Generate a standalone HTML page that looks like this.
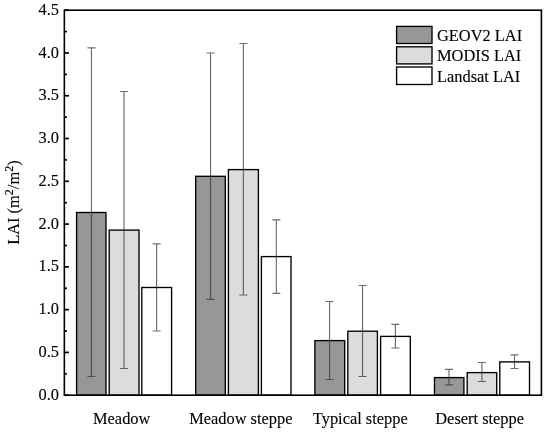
<!DOCTYPE html>
<html><head><meta charset="utf-8"><style>
html,body{margin:0;padding:0;background:#fff;width:550px;height:432px;overflow:hidden}
svg{display:block}
text{font-family:"Liberation Serif","Times New Roman",serif;font-size:16.4px;fill:#000;stroke:#000;stroke-width:0.12px}
</style></head><body>
<svg width="550" height="432" viewBox="0 0 550 432">
<rect x="0" y="0" width="550" height="432" fill="#fff"/>
<rect x="76.60" y="212.50" width="29.40" height="182.70" fill="#979797" stroke="#000" stroke-width="1.35"/>
<rect x="109.20" y="230.10" width="29.80" height="165.10" fill="#dcdcdc" stroke="#000" stroke-width="1.35"/>
<rect x="141.80" y="287.50" width="29.80" height="107.70" fill="#ffffff" stroke="#000" stroke-width="1.35"/>
<rect x="195.70" y="176.30" width="29.60" height="218.90" fill="#979797" stroke="#000" stroke-width="1.35"/>
<rect x="228.40" y="169.60" width="30.00" height="225.60" fill="#dcdcdc" stroke="#000" stroke-width="1.35"/>
<rect x="261.40" y="256.60" width="29.60" height="138.60" fill="#ffffff" stroke="#000" stroke-width="1.35"/>
<rect x="314.90" y="340.60" width="29.80" height="54.60" fill="#979797" stroke="#000" stroke-width="1.35"/>
<rect x="347.80" y="331.20" width="29.60" height="64.00" fill="#dcdcdc" stroke="#000" stroke-width="1.35"/>
<rect x="380.60" y="336.40" width="29.70" height="58.80" fill="#ffffff" stroke="#000" stroke-width="1.35"/>
<rect x="434.50" y="377.60" width="29.40" height="17.60" fill="#979797" stroke="#000" stroke-width="1.35"/>
<rect x="467.20" y="372.60" width="29.50" height="22.60" fill="#dcdcdc" stroke="#000" stroke-width="1.35"/>
<rect x="499.80" y="361.90" width="29.70" height="33.30" fill="#ffffff" stroke="#000" stroke-width="1.35"/>
<g stroke="#333333" stroke-opacity="0.72" stroke-width="1.15" fill="none">
<path d="M91.45 47.80V376.50M87.45 47.80H95.45M87.45 376.50H95.45"/>
<path d="M124.00 91.50V368.50M120.00 91.50H128.00M120.00 368.50H128.00"/>
<path d="M156.60 243.80V331.00M152.60 243.80H160.60M152.60 331.00H160.60"/>
<path d="M210.55 53.00V299.40M206.55 53.00H214.55M206.55 299.40H214.55"/>
<path d="M243.40 43.50V295.00M239.40 43.50H247.40M239.40 295.00H247.40"/>
<path d="M276.35 219.80V293.40M272.35 219.80H280.35M272.35 293.40H280.35"/>
<path d="M329.55 301.50V379.50M325.55 301.50H333.55M325.55 379.50H333.55"/>
<path d="M362.55 285.50V376.50M358.55 285.50H366.55M358.55 376.50H366.55"/>
<path d="M395.40 324.30V348.00M391.40 324.30H399.40M391.40 348.00H399.40"/>
<path d="M449.00 369.40V384.80M445.00 369.40H453.00M445.00 384.80H453.00"/>
<path d="M481.90 362.50V381.50M477.90 362.50H485.90M477.90 381.50H485.90"/>
<path d="M514.50 354.80V368.50M510.50 354.80H518.50M510.50 368.50H518.50"/>
</g>
<line x1="64.35" y1="395.20" x2="68.95" y2="395.20" stroke="#000" stroke-width="1.7"/>
<line x1="64.35" y1="373.81" x2="66.95" y2="373.81" stroke="#000" stroke-width="1.7"/>
<line x1="64.35" y1="352.42" x2="68.95" y2="352.42" stroke="#000" stroke-width="1.7"/>
<line x1="64.35" y1="331.03" x2="66.95" y2="331.03" stroke="#000" stroke-width="1.7"/>
<line x1="64.35" y1="309.64" x2="68.95" y2="309.64" stroke="#000" stroke-width="1.7"/>
<line x1="64.35" y1="288.26" x2="66.95" y2="288.26" stroke="#000" stroke-width="1.7"/>
<line x1="64.35" y1="266.87" x2="68.95" y2="266.87" stroke="#000" stroke-width="1.7"/>
<line x1="64.35" y1="245.48" x2="66.95" y2="245.48" stroke="#000" stroke-width="1.7"/>
<line x1="64.35" y1="224.09" x2="68.95" y2="224.09" stroke="#000" stroke-width="1.7"/>
<line x1="64.35" y1="202.70" x2="66.95" y2="202.70" stroke="#000" stroke-width="1.7"/>
<line x1="64.35" y1="181.31" x2="68.95" y2="181.31" stroke="#000" stroke-width="1.7"/>
<line x1="64.35" y1="159.92" x2="66.95" y2="159.92" stroke="#000" stroke-width="1.7"/>
<line x1="64.35" y1="138.53" x2="68.95" y2="138.53" stroke="#000" stroke-width="1.7"/>
<line x1="64.35" y1="117.14" x2="66.95" y2="117.14" stroke="#000" stroke-width="1.7"/>
<line x1="64.35" y1="95.76" x2="68.95" y2="95.76" stroke="#000" stroke-width="1.7"/>
<line x1="64.35" y1="74.37" x2="66.95" y2="74.37" stroke="#000" stroke-width="1.7"/>
<line x1="64.35" y1="52.98" x2="68.95" y2="52.98" stroke="#000" stroke-width="1.7"/>
<line x1="64.35" y1="31.59" x2="66.95" y2="31.59" stroke="#000" stroke-width="1.7"/>
<line x1="64.35" y1="10.20" x2="68.95" y2="10.20" stroke="#000" stroke-width="1.7"/>
<rect x="64.35" y="10.2" width="477.05" height="385.00" fill="none" stroke="#000" stroke-width="1.6"/>
<text x="59.0" y="399.80" text-anchor="end">0.0</text>
<text x="59.0" y="357.02" text-anchor="end">0.5</text>
<text x="59.0" y="314.24" text-anchor="end">1.0</text>
<text x="59.0" y="271.47" text-anchor="end">1.5</text>
<text x="59.0" y="228.69" text-anchor="end">2.0</text>
<text x="59.0" y="185.91" text-anchor="end">2.5</text>
<text x="59.0" y="143.13" text-anchor="end">3.0</text>
<text x="59.0" y="100.36" text-anchor="end">3.5</text>
<text x="59.0" y="57.58" text-anchor="end">4.0</text>
<text x="59.0" y="14.80" text-anchor="end">4.5</text>
<text x="121.70" y="424.0" text-anchor="middle">Meadow</text>
<text x="240.80" y="424.0" text-anchor="middle">Meadow steppe</text>
<text x="360.30" y="424.0" text-anchor="middle">Typical steppe</text>
<text x="479.65" y="424.0" text-anchor="middle">Desert steppe</text>
<text transform="translate(19.3,202.6) rotate(-90)" text-anchor="middle">LAI (m<tspan dy="-6.5" font-size="12">2</tspan><tspan dy="6.5">/m</tspan><tspan dy="-6.5" font-size="12">2</tspan><tspan dy="6.5">)</tspan></text>
<rect x="396.6" y="26.4" width="35.4" height="17.10" fill="#979797" stroke="#000" stroke-width="1.35"/>
<text x="437.0" y="40.85">GEOV2 LAI</text>
<rect x="396.6" y="46.8" width="35.4" height="17.10" fill="#dcdcdc" stroke="#000" stroke-width="1.35"/>
<text x="437.0" y="61.25">MODIS LAI</text>
<rect x="396.6" y="67.0" width="35.4" height="17.50" fill="#ffffff" stroke="#000" stroke-width="1.35"/>
<text x="437.0" y="81.65">Landsat LAI</text>
</svg>
</body></html>
